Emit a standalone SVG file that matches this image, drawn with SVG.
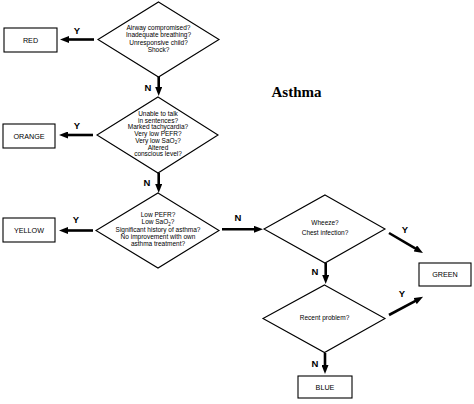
<svg xmlns="http://www.w3.org/2000/svg" width="474" height="404" viewBox="0 0 474 404">
<style>
.shape{fill:#fff;stroke:#000;stroke-width:1.1}
.q{font-family:"Liberation Sans",Arial,sans-serif;font-size:6.5px;fill:#000;text-anchor:middle}
.box{font-family:"Liberation Sans",Arial,sans-serif;font-size:7.2px;fill:#000;text-anchor:middle}
.lbl{font-family:"Liberation Sans",Arial,sans-serif;font-size:9.5px;font-weight:bold;fill:#000;text-anchor:middle}
.arr{fill:none;stroke:#000;stroke-width:2.6;marker-end:url(#ah)}
.sub{font-size:4.5px}
</style>
<defs>
<marker id="ah" viewBox="0 0 9 7" markerWidth="9" markerHeight="7" refX="1" refY="3.5" orient="auto" markerUnits="userSpaceOnUse">
<path d="M0,0 L9,3.5 L0,7 z" fill="#000"/>
</marker>
</defs>
<rect width="474" height="404" fill="#fff"/>
<text x="296.5" y="97" font-family="'Liberation Serif','Times New Roman',serif" font-size="15" font-weight="bold" text-anchor="middle">Asthma</text>

<g id="q1">
<polygon class="shape" points="158.5,2 219,39.5 158.5,77 98,39.5"/>
<text class="q" x="158.5" y="30">Airway compromised?</text>
<text class="q" x="158.5" y="37.3">Inadequate breathing?</text>
<text class="q" x="158.5" y="44.6">Unresponsive child?</text>
<text class="q" x="158.5" y="51.9">Shock?</text>
</g>
<g id="q2">
<polygon class="shape" points="158,97 218,135 158,173 97,135"/>
<text class="q" x="158" y="116">Unable to talk</text>
<text class="q" x="158" y="122.7">in sentences?</text>
<text class="q" x="158" y="129.4">Marked tachycardia?</text>
<text class="q" x="158" y="136.1">Very low PEFR?</text>
<text class="q" x="158" y="142.8">Very low SaO<tspan class="sub" dy="1.5">2</tspan><tspan dy="-1.5">?</tspan></text>
<text class="q" x="158" y="149.5">Altered</text>
<text class="q" x="158" y="156.2">conscious level?</text>
</g>
<g id="q3">
<polygon class="shape" points="158,193 219,230.5 158,268 96,230.5"/>
<text class="q" x="158" y="217">Low PEFR?</text>
<text class="q" x="158" y="224">Low SaO<tspan class="sub" dy="1.5">2</tspan><tspan dy="-1.5">?</tspan></text>
<text class="q" x="158" y="231.5">Significant history of asthma?</text>
<text class="q" x="158" y="238.8">No improvement with own</text>
<text class="q" x="158" y="246.1">asthma treatment?</text>
</g>
<g id="q4">
<polygon class="shape" points="325,195 385,229 325,263 264,229"/>
<text class="q" x="325" y="225">Wheeze?</text>
<text class="q" x="325" y="234.7">Chest infection?</text>
</g>
<g id="q5">
<polygon class="shape" points="324.5,285 385,318.5 324.5,352.5 263,318.5"/>
<text class="q" x="324.5" y="320.3">Recent problem?</text>
</g>

<g id="red"><rect class="shape" x="4" y="28" width="53" height="24"/><text class="box" x="30.5" y="42.6">RED</text></g>
<g id="orange"><rect class="shape" x="3" y="124" width="52" height="24"/><text class="box" x="29" y="138.6">ORANGE</text></g>
<g id="yellow"><rect class="shape" x="3" y="218" width="52" height="24"/><text class="box" x="29" y="232.6">YELLOW</text></g>
<g id="green"><rect class="shape" x="419" y="263" width="52" height="23"/><text class="box" x="445" y="277.1">GREEN</text></g>
<g id="blue"><rect class="shape" x="298" y="376" width="54" height="22"/><text class="box" x="325" y="389.6">BLUE</text></g>

<g id="connectors">
<line class="arr" x1="94" y1="39.5" x2="68" y2="39.5"/>
<line class="arr" x1="93" y1="135" x2="67" y2="135"/>
<line class="arr" x1="93" y1="230.5" x2="67" y2="230.5"/>
<line class="arr" x1="158.7" y1="77" x2="158.7" y2="88"/>
<line class="arr" x1="158.7" y1="173" x2="158.7" y2="185"/>
<line class="arr" x1="222" y1="229.3" x2="255" y2="229.3"/>
<line class="arr" x1="325.7" y1="263" x2="325.7" y2="276"/>
<line class="arr" x1="325" y1="353" x2="325" y2="366"/>
<line class="arr" x1="389" y1="233" x2="416.1" y2="248.9"/>
<line class="arr" x1="389" y1="315" x2="416" y2="300.6"/>
<text class="lbl" x="77" y="33.5">Y</text>
<text class="lbl" x="77" y="128.5">Y</text>
<text class="lbl" x="76" y="222.5">Y</text>
<text class="lbl" x="148" y="90.5">N</text>
<text class="lbl" x="147" y="185.5">N</text>
<text class="lbl" x="238" y="220.5">N</text>
<text class="lbl" x="315" y="274.5">N</text>
<text class="lbl" x="315" y="366.5">N</text>
<text class="lbl" x="405" y="232.5">Y</text>
<text class="lbl" x="402" y="296.5">Y</text>
</g>
</svg>
